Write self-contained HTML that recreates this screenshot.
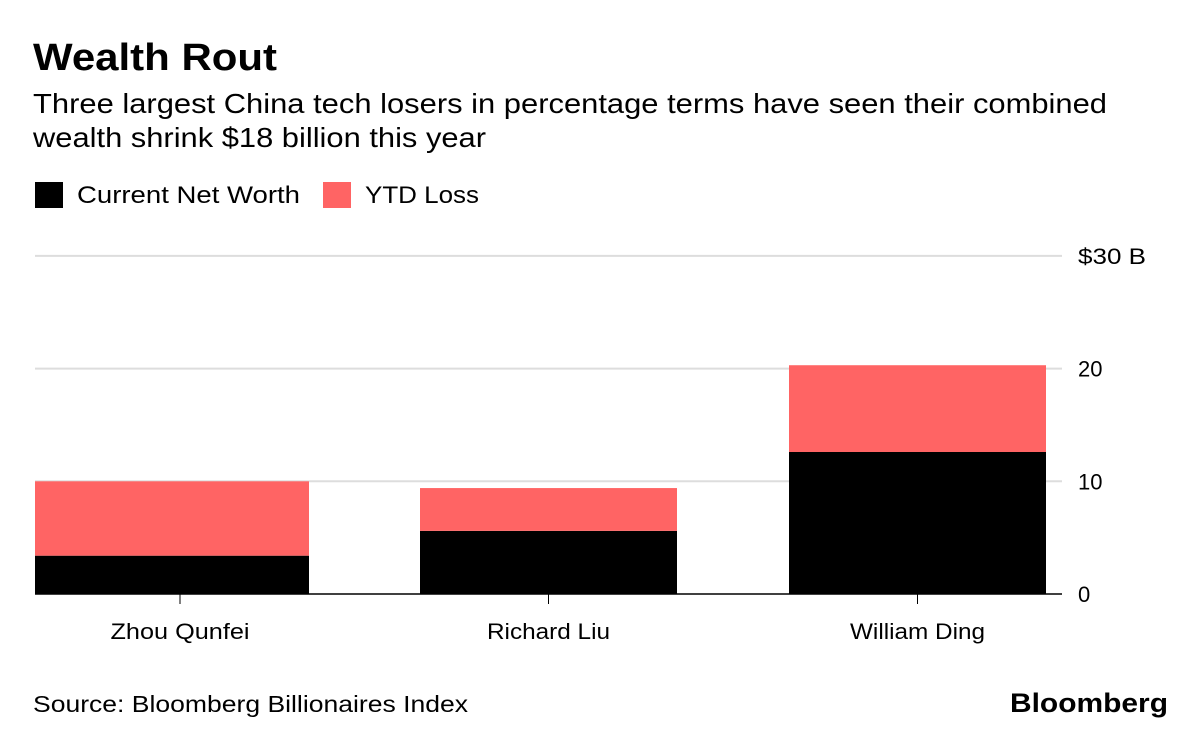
<!DOCTYPE html>
<html><head><meta charset="utf-8"><style>
body{margin:0;width:1200px;height:735px;background:#fff;font-family:"Liberation Sans",sans-serif;overflow:hidden}
</style></head><body>
<svg width="1200" height="735" xmlns="http://www.w3.org/2000/svg" id="chart">
<text x="33" y="70" font-size="38" font-weight="bold" fill="#000" textLength="244" lengthAdjust="spacingAndGlyphs">Wealth Rout</text>
<text x="33" y="113" font-size="28" fill="#000" textLength="1074" lengthAdjust="spacingAndGlyphs">Three largest China tech losers in percentage terms have seen their combined</text>
<text x="33" y="147" font-size="28" fill="#000" textLength="453" lengthAdjust="spacingAndGlyphs">wealth shrink $18 billion this year</text>
<g>
<rect x="35" y="182" width="28" height="26" fill="#000"/>
<text x="77" y="203" font-size="24" textLength="223" lengthAdjust="spacingAndGlyphs">Current Net Worth</text>
<rect x="323" y="182" width="28" height="26" fill="#ff6464"/>
<text x="365" y="203" font-size="24" textLength="114" lengthAdjust="spacingAndGlyphs">YTD Loss</text>
</g>
<g id="grid"></g><g id="bars"></g><g id="labels"></g>
<text x="33" y="712" font-size="23" textLength="435" lengthAdjust="spacingAndGlyphs">Source: Bloomberg Billionaires Index</text>
<text x="1010" y="712" font-size="27" font-weight="bold" textLength="158" lengthAdjust="spacingAndGlyphs">Bloomberg</text>
</svg>
<script>
const categories=["Zhou Qunfei","Richard Liu","William Ding"];
const netWorth=[3.4,5.6,12.6];
const ytdLoss=[6.6,3.8,7.7];
const ticks=[0,10,20,30];
const tickLabels=["0","10","20","$30 B"];
const NS="http://www.w3.org/2000/svg";
const y=v=>594-v*11.27;
const barW=i=>i==0?274:257;
const labelW=[139,123,135];
function mk(t,a,p){const e=document.createElementNS(NS,t);for(const k in a)e.setAttribute(k,a[k]);p.appendChild(e);return e;}
const g=document.getElementById('grid'),b=document.getElementById('bars'),l=document.getElementById('labels');
ticks.forEach((t,i)=>{
 const ln=mk('line',{x1:35,x2:1062,y1:y(t),y2:y(t),stroke:i==0?'#000':'#ddd','stroke-width':i==0?1.5:2},g);
 
 
 const a={x:1078,y:y(t)+8,'font-size':22};
 if(i==3){a.textLength=68;a.lengthAdjust='spacingAndGlyphs';}
 const tx=mk('text',a,g);tx.textContent=tickLabels[i];
 
 
});
categories.forEach((c,i)=>{
 const x=i==0?35:(i==1?420:789),w=barW(i);
 const r1=mk('rect',{x:x,y:y(netWorth[i]),width:w,height:y(0)-y(netWorth[i]),fill:'#000'},b);
 
 
 const tot=netWorth[i]+ytdLoss[i];
 const r2=mk('rect',{x:x,y:y(tot),width:w,height:y(netWorth[i])-y(tot),fill:'#ff6464'},b);
 
 
 const cx=i==0?180:x+w/2;
 const tk=mk('line',{x1:cx,x2:cx,y1:594,y2:604,stroke:'#000'},l);
 
 
 const t=mk('text',{x:cx-labelW[i]/2,y:639,'font-size':22,textLength:labelW[i],lengthAdjust:'spacingAndGlyphs'},l);t.textContent=c;
 
 
});
</script>
</body></html>
